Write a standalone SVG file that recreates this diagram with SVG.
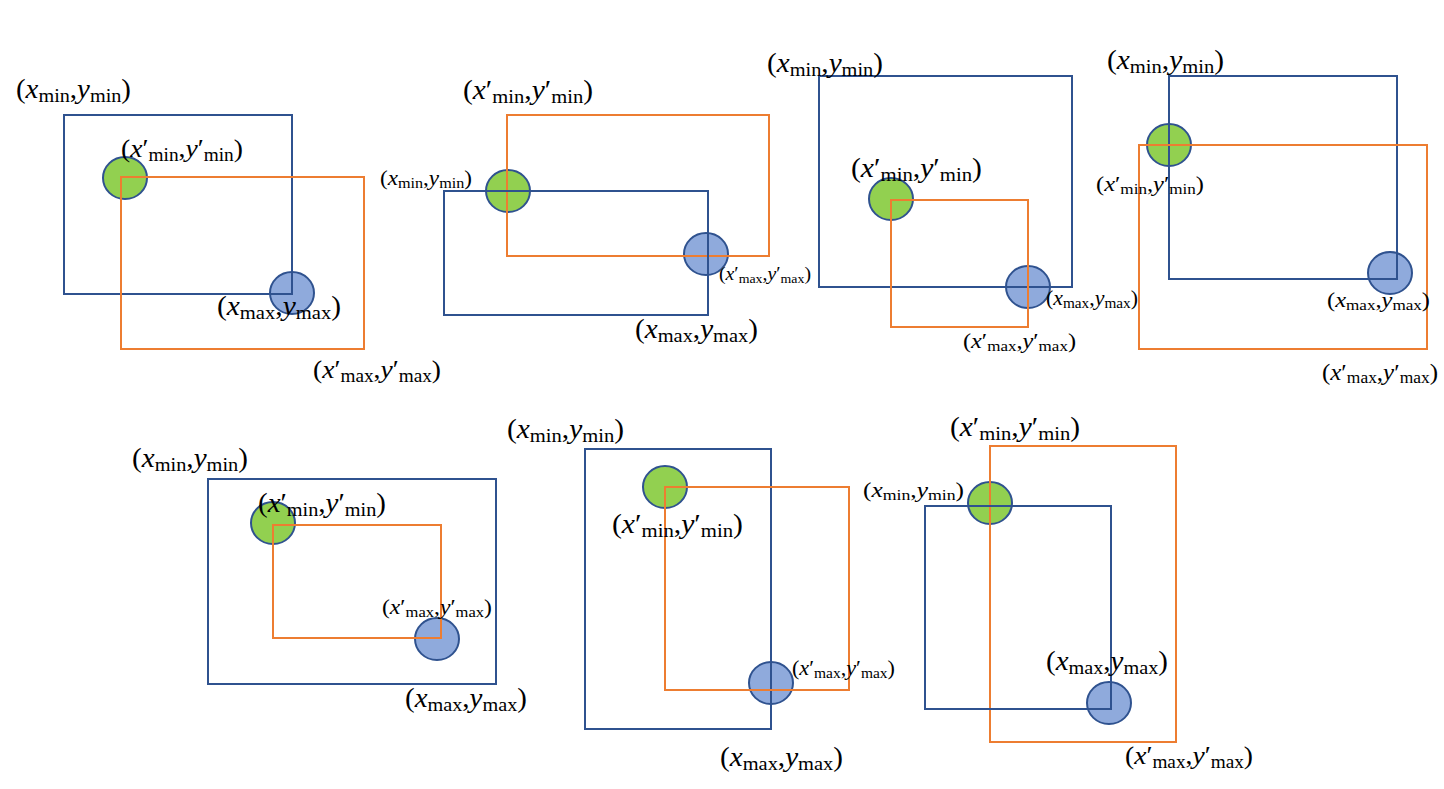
<svg xmlns="http://www.w3.org/2000/svg" width="1444" height="789" viewBox="0 0 1444 789">
<style>
.bg{fill:#FFFFFF}
.bb{fill:none;stroke:#2F528F;stroke-width:2}
.ob{fill:none;stroke:#ED7D31;stroke-width:2}
.gp{fill:#92D050;stroke:#2F528F;stroke-width:2}
.bp{fill:#8FAADC;stroke:#2F528F;stroke-width:2}
text{font-family:"Liberation Serif","Times New Roman",serif;fill:#000000}
.i{font-style:italic}
.s{font-size:70%}
</style>
<rect class="bg" x="0" y="0" width="1444" height="789"/>

<g id="panel1">
<ellipse class="gp" cx="125" cy="178" rx="22" ry="21"/>
<ellipse class="bp" cx="292" cy="293" rx="22" ry="21"/>
<rect class="bb" x="64" y="115" width="228" height="179"/>
<rect class="ob" x="121" y="177" width="243" height="172"/>
<text x="16" y="98" font-size="28" textLength="115" lengthAdjust="spacingAndGlyphs">(<tspan class="i">x</tspan><tspan class="s" dy="4">min</tspan><tspan dy="-4">,</tspan><tspan class="i">y</tspan><tspan class="s" dy="4">min</tspan><tspan dy="-4">)</tspan></text>
<text x="121" y="157" font-size="26" textLength="122" lengthAdjust="spacingAndGlyphs">(<tspan class="i">x</tspan>′<tspan class="s" dy="4">min</tspan><tspan dy="-4">,</tspan><tspan class="i">y</tspan>′<tspan class="s" dy="4">min</tspan><tspan dy="-4">)</tspan></text>
<text x="217" y="315" font-size="28" textLength="124" lengthAdjust="spacingAndGlyphs">(<tspan class="i">x</tspan><tspan class="s" dy="4">max</tspan><tspan dy="-4">,</tspan><tspan class="i">y</tspan><tspan class="s" dy="4">max</tspan><tspan dy="-4">)</tspan></text>
<text x="313" y="378" font-size="26" textLength="128" lengthAdjust="spacingAndGlyphs">(<tspan class="i">x</tspan>′<tspan class="s" dy="4">max</tspan><tspan dy="-4">,</tspan><tspan class="i">y</tspan>′<tspan class="s" dy="4">max</tspan><tspan dy="-4">)</tspan></text>
</g>

<g id="panel2">
<ellipse class="gp" cx="508" cy="191" rx="22" ry="21"/>
<ellipse class="bp" cx="706" cy="254" rx="22" ry="21"/>
<rect class="ob" x="507" y="115" width="262" height="141"/>
<rect class="bb" x="444" y="191" width="264" height="124"/>
<text x="463" y="99" font-size="28" textLength="130" lengthAdjust="spacingAndGlyphs">(<tspan class="i">x</tspan>′<tspan class="s" dy="4">min</tspan><tspan dy="-4">,</tspan><tspan class="i">y</tspan>′<tspan class="s" dy="4">min</tspan><tspan dy="-4">)</tspan></text>
<text x="380" y="185" font-size="21" textLength="92" lengthAdjust="spacingAndGlyphs">(<tspan class="i">x</tspan><tspan class="s" dy="3">min</tspan><tspan dy="-3">,</tspan><tspan class="i">y</tspan><tspan class="s" dy="3">min</tspan><tspan dy="-3">)</tspan></text>
<text x="719" y="280" font-size="18" textLength="92" lengthAdjust="spacingAndGlyphs">(<tspan class="i">x</tspan>′<tspan class="s" dy="3">max</tspan><tspan dy="-3">,</tspan><tspan class="i">y</tspan>′<tspan class="s" dy="3">max</tspan><tspan dy="-3">)</tspan></text>
<text x="635" y="338" font-size="28" textLength="123" lengthAdjust="spacingAndGlyphs">(<tspan class="i">x</tspan><tspan class="s" dy="4">max</tspan><tspan dy="-4">,</tspan><tspan class="i">y</tspan><tspan class="s" dy="4">max</tspan><tspan dy="-4">)</tspan></text>
</g>

<g id="panel3">
<ellipse class="gp" cx="891" cy="199" rx="22" ry="21"/>
<ellipse class="bp" cx="1028" cy="287" rx="22" ry="21"/>
<rect class="bb" x="819" y="76" width="253" height="211"/>
<rect class="ob" x="891" y="200" width="137" height="127"/>
<text x="767" y="72" font-size="28" textLength="116" lengthAdjust="spacingAndGlyphs">(<tspan class="i">x</tspan><tspan class="s" dy="4">min</tspan><tspan dy="-4">,</tspan><tspan class="i">y</tspan><tspan class="s" dy="4">min</tspan><tspan dy="-4">)</tspan></text>
<text x="851" y="177" font-size="28" textLength="131" lengthAdjust="spacingAndGlyphs">(<tspan class="i">x</tspan>′<tspan class="s" dy="4">min</tspan><tspan dy="-4">,</tspan><tspan class="i">y</tspan>′<tspan class="s" dy="4">min</tspan><tspan dy="-4">)</tspan></text>
<text x="1046" y="305" font-size="20" textLength="92" lengthAdjust="spacingAndGlyphs">(<tspan class="i">x</tspan><tspan class="s" dy="3">max</tspan><tspan dy="-3">,</tspan><tspan class="i">y</tspan><tspan class="s" dy="3">max</tspan><tspan dy="-3">)</tspan></text>
<text x="963" y="348" font-size="22" textLength="113" lengthAdjust="spacingAndGlyphs">(<tspan class="i">x</tspan>′<tspan class="s" dy="3">max</tspan><tspan dy="-3">,</tspan><tspan class="i">y</tspan>′<tspan class="s" dy="3">max</tspan><tspan dy="-3">)</tspan></text>
</g>

<g id="panel4">
<ellipse class="gp" cx="1169" cy="145" rx="22" ry="21"/>
<ellipse class="bp" cx="1390" cy="273" rx="22" ry="21"/>
<rect class="bb" x="1169" y="76" width="228" height="203"/>
<rect class="ob" x="1139" y="145" width="288" height="204"/>
<text x="1107" y="69" font-size="28" textLength="117" lengthAdjust="spacingAndGlyphs">(<tspan class="i">x</tspan><tspan class="s" dy="4">min</tspan><tspan dy="-4">,</tspan><tspan class="i">y</tspan><tspan class="s" dy="4">min</tspan><tspan dy="-4">)</tspan></text>
<text x="1096" y="191" font-size="22" textLength="108" lengthAdjust="spacingAndGlyphs">(<tspan class="i">x</tspan>′<tspan class="s" dy="3">min</tspan><tspan dy="-3">,</tspan><tspan class="i">y</tspan>′<tspan class="s" dy="3">min</tspan><tspan dy="-3">)</tspan></text>
<text x="1327" y="307" font-size="22" textLength="103" lengthAdjust="spacingAndGlyphs">(<tspan class="i">x</tspan><tspan class="s" dy="3">max</tspan><tspan dy="-3">,</tspan><tspan class="i">y</tspan><tspan class="s" dy="3">max</tspan><tspan dy="-3">)</tspan></text>
<text x="1322" y="380" font-size="23" textLength="116" lengthAdjust="spacingAndGlyphs">(<tspan class="i">x</tspan>′<tspan class="s" dy="3">max</tspan><tspan dy="-3">,</tspan><tspan class="i">y</tspan>′<tspan class="s" dy="3">max</tspan><tspan dy="-3">)</tspan></text>
</g>

<g id="panel5">
<ellipse class="gp" cx="273" cy="523" rx="22" ry="21"/>
<ellipse class="bp" cx="437" cy="639" rx="22" ry="21"/>
<rect class="bb" x="208" y="479" width="288" height="205"/>
<rect class="ob" x="273" y="525" width="168" height="113"/>
<text x="132" y="467" font-size="28" textLength="116" lengthAdjust="spacingAndGlyphs">(<tspan class="i">x</tspan><tspan class="s" dy="4">min</tspan><tspan dy="-4">,</tspan><tspan class="i">y</tspan><tspan class="s" dy="4">min</tspan><tspan dy="-4">)</tspan></text>
<text x="258" y="512" font-size="27" textLength="128" lengthAdjust="spacingAndGlyphs">(<tspan class="i">x</tspan>′<tspan class="s" dy="4">min</tspan><tspan dy="-4">,</tspan><tspan class="i">y</tspan>′<tspan class="s" dy="4">min</tspan><tspan dy="-4">)</tspan></text>
<text x="382" y="614" font-size="21" textLength="110" lengthAdjust="spacingAndGlyphs">(<tspan class="i">x</tspan>′<tspan class="s" dy="3">max</tspan><tspan dy="-3">,</tspan><tspan class="i">y</tspan>′<tspan class="s" dy="3">max</tspan><tspan dy="-3">)</tspan></text>
<text x="405" y="707" font-size="28" textLength="122" lengthAdjust="spacingAndGlyphs">(<tspan class="i">x</tspan><tspan class="s" dy="4">max</tspan><tspan dy="-4">,</tspan><tspan class="i">y</tspan><tspan class="s" dy="4">max</tspan><tspan dy="-4">)</tspan></text>
</g>

<g id="panel6">
<ellipse class="gp" cx="665" cy="487" rx="22" ry="21"/>
<ellipse class="bp" cx="771" cy="683" rx="22" ry="21"/>
<rect class="bb" x="585" y="449" width="186" height="280"/>
<rect class="ob" x="665" y="487" width="184" height="203"/>
<text x="507" y="438" font-size="28" textLength="117" lengthAdjust="spacingAndGlyphs">(<tspan class="i">x</tspan><tspan class="s" dy="4">min</tspan><tspan dy="-4">,</tspan><tspan class="i">y</tspan><tspan class="s" dy="4">min</tspan><tspan dy="-4">)</tspan></text>
<text x="612" y="533" font-size="28" textLength="131" lengthAdjust="spacingAndGlyphs">(<tspan class="i">x</tspan>′<tspan class="s" dy="4">min</tspan><tspan dy="-4">,</tspan><tspan class="i">y</tspan>′<tspan class="s" dy="4">min</tspan><tspan dy="-4">)</tspan></text>
<text x="792" y="675" font-size="20" textLength="103" lengthAdjust="spacingAndGlyphs">(<tspan class="i">x</tspan>′<tspan class="s" dy="3">max</tspan><tspan dy="-3">,</tspan><tspan class="i">y</tspan>′<tspan class="s" dy="3">max</tspan><tspan dy="-3">)</tspan></text>
<text x="720" y="766" font-size="28" textLength="123" lengthAdjust="spacingAndGlyphs">(<tspan class="i">x</tspan><tspan class="s" dy="4">max</tspan><tspan dy="-4">,</tspan><tspan class="i">y</tspan><tspan class="s" dy="4">max</tspan><tspan dy="-4">)</tspan></text>
</g>

<g id="panel7">
<ellipse class="gp" cx="990" cy="503" rx="22" ry="21"/>
<ellipse class="bp" cx="1109" cy="703" rx="22" ry="21"/>
<rect class="ob" x="990" y="446" width="186" height="296"/>
<rect class="bb" x="925" y="506" width="186" height="203"/>
<text x="950" y="436" font-size="28" textLength="130" lengthAdjust="spacingAndGlyphs">(<tspan class="i">x</tspan>′<tspan class="s" dy="4">min</tspan><tspan dy="-4">,</tspan><tspan class="i">y</tspan>′<tspan class="s" dy="4">min</tspan><tspan dy="-4">)</tspan></text>
<text x="863" y="497" font-size="22" textLength="101" lengthAdjust="spacingAndGlyphs">(<tspan class="i">x</tspan><tspan class="s" dy="3">min</tspan><tspan dy="-3">,</tspan><tspan class="i">y</tspan><tspan class="s" dy="3">min</tspan><tspan dy="-3">)</tspan></text>
<text x="1046" y="670" font-size="28" textLength="122" lengthAdjust="spacingAndGlyphs">(<tspan class="i">x</tspan><tspan class="s" dy="4">max</tspan><tspan dy="-4">,</tspan><tspan class="i">y</tspan><tspan class="s" dy="4">max</tspan><tspan dy="-4">)</tspan></text>
<text x="1125" y="764" font-size="26" textLength="128" lengthAdjust="spacingAndGlyphs">(<tspan class="i">x</tspan>′<tspan class="s" dy="4">max</tspan><tspan dy="-4">,</tspan><tspan class="i">y</tspan>′<tspan class="s" dy="4">max</tspan><tspan dy="-4">)</tspan></text>
</g>

<g id="connectors"/>
</svg>
